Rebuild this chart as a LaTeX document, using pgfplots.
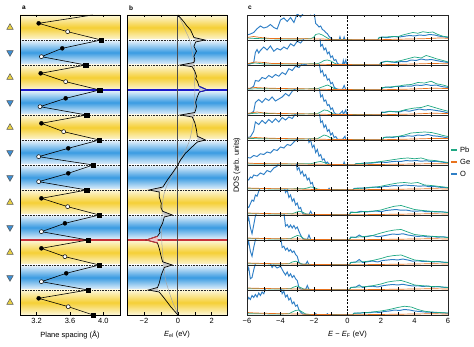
\documentclass[border=0pt]{standalone}
\usepackage{pgfplots}
\pgfplotsset{compat=1.18}
\usepackage{fontspec}
\setmainfont{Liberation Sans}
\definecolor{yel}{HTML}{F5CF35}
\definecolor{yelE}{HTML}{FDF7DA}
\definecolor{blu}{HTML}{3A9BE2}
\definecolor{bluE}{HTML}{EEF6FC}
\definecolor{cPb}{HTML}{1FA883}
\definecolor{cGe}{HTML}{E8731E}
\definecolor{cO}{HTML}{2F7FC6}
\definecolor{triY}{HTML}{E8D045}
\definecolor{triB}{HTML}{3D8FD4}
\definecolor{lineB}{HTML}{1A1ACC}
\definecolor{lineR}{HTML}{C8323A}
\newcommand\band[5]{\fill[top color=#1E,bottom color=#1E,middle color=#1] (axis cs:#2,#4) rectangle (axis cs:#3,#5);}
\newcommand\fs{\fontsize{7.5}{9}\selectfont}
\pgfplotsset{
  base/.style={scale only axis, anchor=south west, tick align=inside, ytick=\empty,
    axis on top, axis line style={line width=0.6pt},
    major tick length=2.5pt, minor tick length=2.5pt,
    every tick/.style={line width=0.5pt, black},
    tick label style={font=\fs}, label style={font=\fs}},
  cpan/.style={base, width=201pt, height=25pt, xmin=-6, xmax=6, ymin=0, ymax=1,
    xtick={-6,-4,...,6}, minor xtick={-5,-3,...,5}, xticklabels={,,,,,,},
    axis line style={line width=0.6pt, black!85}},
  pO/.style={cO, line width=0.95pt},
  pPb/.style={cPb, line width=0.7pt},
  pGe/.style={cGe, line width=0.7pt},
}
\begin{document}
\begin{tikzpicture}
\useasboundingbox (0,0) rectangle (474pt,347pt);
% ---------------- panel a
\begin{axis}[base, at={(20pt,32pt)}, width=100pt, height=300pt,
  xmin=3.0, xmax=4.2, ymin=0, ymax=12, clip=false,
  xtick={3.2,3.6,4.0}, xticklabels={3.2,3.6,4.0},
  xlabel={Plane spacing (Å)}]
\band{yel}{3.0}{4.2}{11}{12}
\band{blu}{3.0}{4.2}{10}{11}
\band{yel}{3.0}{4.2}{9}{10}
\band{blu}{3.0}{4.2}{8}{9}
\band{yel}{3.0}{4.2}{7}{8}
\band{blu}{3.0}{4.2}{6}{7}
\band{blu}{3.0}{4.2}{5}{6}
\band{yel}{3.0}{4.2}{4}{5}
\band{blu}{3.0}{4.2}{3}{4}
\band{yel}{3.0}{4.2}{2}{3}
\band{blu}{3.0}{4.2}{1}{2}
\band{yel}{3.0}{4.2}{0}{1}
\foreach \yy in {1,2,4,5,6,7,8,10,11}{
  \edef\tmp{\noexpand\draw[black!85, line width=0.5pt, dash pattern=on 0.8pt off 0.8pt] (axis cs:3.0,\yy) -- (axis cs:4.2,\yy);}\tmp}
\draw[lineB, line width=1.2pt] (axis cs:3.0,9) -- (axis cs:4.2,9);
\draw[lineR, line width=1.2pt] (axis cs:3.0,3) -- (axis cs:4.2,3);
\addplot[black, line width=0.6pt] coordinates {(3.87,12)
(3.224,11.667)(3.572,11.333)(3.972,11)
(3.507,10.667)(3.257,10.333)(3.790,10)
(3.248,9.667)(3.548,9.333)(3.955,9)
(3.548,8.667)(3.240,8.333)(3.798,8)
(3.257,7.667)(3.524,7.333)(3.951,7)
(3.579,6.667)(3.224,6.333)(3.879,6)
(3.579,5.667)(3.224,5.333)(3.802,5)
(3.257,4.667)(3.572,4.333)(3.951,4)
(3.539,3.667)(3.257,3.333)(3.815,3)
(3.257,2.667)(3.539,2.333)(3.951,2)
(3.555,1.667)(3.257,1.333)(3.815,1)
(3.224,0.667)(3.579,0.333)(3.879,0)};
\addplot[only marks, mark=*, mark size=2pt, mark options={black, fill=black}] coordinates {
(3.224,11.667)(3.507,10.667)(3.248,9.667)(3.548,8.667)(3.257,7.667)(3.579,6.667)
(3.579,5.667)(3.257,4.667)(3.539,3.667)(3.257,2.667)(3.555,1.667)(3.224,0.667)};
\addplot[only marks, mark=*, mark size=2pt, mark options={black, fill=white, line width=0.5pt}] coordinates {
(3.572,11.333)(3.257,10.333)(3.548,9.333)(3.240,8.333)(3.524,7.333)(3.224,6.333)
(3.224,5.333)(3.572,4.333)(3.257,3.333)(3.539,2.333)(3.257,1.333)(3.579,0.333)};
\addplot[only marks, mark=square*, mark size=2.2pt, mark options={black, fill=black}] coordinates {
(3.972,11)(3.790,10)(3.955,9)(3.798,8)(3.951,7)(3.879,6)
(3.802,5)(3.951,4)(3.815,3)(3.951,2)(3.815,1)(3.879,0)};
\addplot[only marks, mark=triangle*, mark size=3.8pt, mark options={fill=triY, draw=black!65, line width=0.5pt}] coordinates {
(2.88,11.5)(2.88,9.5)(2.88,7.5)(2.88,4.5)(2.88,2.5)(2.88,0.5)};
\addplot[only marks, mark=triangle*, mark size=3.8pt, mark options={fill=triB, draw=black!65, line width=0.5pt, rotate=180}] coordinates {
(2.88,10.5)(2.88,8.5)(2.88,6.5)(2.88,5.5)(2.88,3.5)(2.88,1.5)};
\end{axis}
% ---------------- panel b
\begin{axis}[base, at={(127pt,32pt)}, width=100pt, height=300pt,
  xmin=-3, xmax=2.9, ymin=0, ymax=12,
  xtick={-2,0,2}, xticklabels={−2,0,2}, minor xtick={-1,1},
  xlabel={\textit{E}\textsubscript{el} (eV)}]
\band{yel}{-3}{2.9}{11}{12}
\band{blu}{-3}{2.9}{10}{11}
\band{yel}{-3}{2.9}{9}{10}
\band{blu}{-3}{2.9}{8}{9}
\band{yel}{-3}{2.9}{7}{8}
\band{blu}{-3}{2.9}{6}{7}
\band{blu}{-3}{2.9}{5}{6}
\band{yel}{-3}{2.9}{4}{5}
\band{blu}{-3}{2.9}{3}{4}
\band{yel}{-3}{2.9}{2}{3}
\band{blu}{-3}{2.9}{1}{2}
\band{yel}{-3}{2.9}{0}{1}
\foreach \yy in {1,2,4,5,6,7,8,10,11}{
  \edef\tmp{\noexpand\draw[black!85, line width=0.5pt, dash pattern=on 0.8pt off 0.8pt] (axis cs:-3,\yy) -- (axis cs:2.9,\yy);}\tmp}
\draw[lineB, line width=1.2pt] (axis cs:-3,9) -- (axis cs:2.9,9);
\draw[lineR, line width=1.2pt] (axis cs:-3,3) -- (axis cs:2.9,3);
\draw[black!70, line width=0.7pt] (axis cs:0,0) -- (axis cs:0,12);
\addplot[black!35, line width=0.5pt, smooth] coordinates {
(0,12)(0.25,11.7)(0.5,11.3)(0.7,11.0)(0.85,10.5)(0.95,10)(1.0,9)(0.95,8)(0.85,7.5)(0.7,7)(0.45,6.6)(0.2,6.3)(0,6)
(-0.3,5.6)(-0.55,5.3)(-0.75,5)(-0.9,4.5)(-0.95,3.5)(-0.95,3)(-0.9,2.5)(-0.75,1.5)(-0.55,1.0)(-0.3,0.5)(-0.1,0.2)(0,0)};
\addplot[fill=black!22, draw=none] coordinates {(0.95,11.1)(1.6,11.0)(1.05,10.92)} -- cycle;
\addplot[fill=black!22, draw=none] coordinates {(0.95,10.1)(0.16,10.0)(0.85,9.93)} -- cycle;
\addplot[fill=black!22, draw=none] coordinates {(1.25,9.15)(1.75,9.0)(1.27,8.92)} -- cycle;
\addplot[fill=black!22, draw=none] coordinates {(1.0,8.1)(0.16,8.0)(0.85,7.92)} -- cycle;
\addplot[fill=black!22, draw=none] coordinates {(1.15,7.15)(1.63,7.0)(1.15,6.92)} -- cycle;
\addplot[fill=black!22, draw=none] coordinates {(-0.88,5.12)(-1.7,5.0)(-1.1,4.92)} -- cycle;
\addplot[fill=black!22, draw=none] coordinates {(-0.9,4.15)(-0.33,4.0)(-0.8,3.92)} -- cycle;
\addplot[fill=lineR!30, draw=none] coordinates {(-1.2,3.15)(-1.86,3.0)(-1.2,2.88)} -- cycle;
\addplot[fill=black!22, draw=none] coordinates {(-0.9,2.13)(-0.33,2.0)(-0.8,1.9)} -- cycle;
\addplot[fill=black!22, draw=none] coordinates {(-1.2,1.1)(-1.74,1.0)(-1.1,0.92)} -- cycle;
\addplot[black, line width=0.7pt] coordinates {
(0.0,12.0)(0.2,11.85)(0.35,11.73)(0.55,11.55)(0.75,11.4)(0.85,11.25)(0.95,11.1)(1.6,11.0)(1.05,10.92)(0.95,10.75)(1.1,10.55)(0.95,10.35)(1.0,10.2)(0.95,10.1)(0.16,10.0)(0.85,9.93)(1.0,9.75)(1.1,9.55)(1.05,9.45)(1.15,9.35)(1.25,9.15)(1.75,9.0)(1.27,8.92)(1.15,8.73)(1.05,8.5)(1.1,8.35)(1.05,8.2)(1.0,8.1)(0.16,8.0)(0.85,7.92)(1.0,7.7)(1.05,7.55)(1.1,7.4)(1.15,7.15)(1.63,7.0)(1.15,6.92)(0.85,6.73)(0.45,6.47)(0.16,6.2)(0.0,6.0)
(-0.33,5.67)(-0.62,5.4)(-0.88,5.12)(-1.7,5.0)(-1.1,4.92)(-1.1,4.73)(-0.98,4.47)(-1.0,4.3)(-0.9,4.15)(-0.33,4.0)(-0.8,3.92)(-0.9,3.67)(-1.1,3.4)(-1.05,3.3)(-1.2,3.15)(-1.86,3.0)(-1.2,2.88)(-1.1,2.67)(-0.98,2.33)(-0.9,2.13)(-0.33,2.0)(-0.8,1.9)(-0.98,1.6)(-1.1,1.27)(-1.2,1.1)(-1.74,1.0)(-1.1,0.92)(-0.8,0.67)(-0.42,0.33)(-0.15,0.12)(0.0,0.0)};
\addplot[lineR, line width=0.9pt] coordinates {(-1.2,3.15)(-1.86,3.0)(-1.2,2.88)};
\addplot[lineB, line width=0.9pt] coordinates {(1.25,9.15)(1.75,9.0)(1.27,8.92)};
\end{axis}
% ---------------- panel c
\begin{axis}[cpan, at={(247pt,307pt)}]
\draw[black, line width=0.8pt, dash pattern=on 2pt off 1.5pt] (axis cs:0,0) -- (axis cs:0,1);
\addplot[pO] coordinates {(-6,.2)(-5.8,.24)(-5.6,.3)(-5.4,.45)(-5.2,.56)(-5,.48)(-4.8,.52)(-4.6,.62)(-4.4,.5)(-4.2,.44)(-4,.8)(-3.8,.88)(-3.6,.74)(-3.4,.9)(-3.2,.7)(-3,1.05)(-2.8,.92)(-2.6,1.1)(-2.4,1.2)(-2.2,1.05)(-2,1.15)(-1.9,.66)(-1.8,.6)(-1.7,.52)(-1.6,.56)(-1.5,.42)(-1.4,.38)(-1.3,.3)(-1.2,.25)(-1.1,.14)(-1,.08)(-.9,.02)(-.5,.02)(-.45,.13)(-.4,.02)(-.25,.02)(-.2,.12)(-.15,.02)(0,0)(1.8,0)(1.9,.1)(2.1,.12)(2.3,.09)(2.5,.11)(2.8,.14)(3.1,.12)(3.4,.15)(3.7,.18)(4,.16)(4.3,.2)(4.6,.18)(4.9,.22)(5.2,.2)(5.5,.15)(5.8,.12)(6,.1)};
\addplot[pPb] coordinates {(-6,.08)(-5.5,.06)(-5,.05)(-4,.04)(-3,.04)(-2.2,.05)(-2,.12)(-1.9,.22)(-1.7,.25)(-1.5,.2)(-1.3,.12)(-1.1,.04)(-0.9,.01)(1.8,0)(1.9,.1)(2.3,.12)(2.7,.14)(3,.13)(3.3,.2)(3.6,.25)(3.9,.3)(4.2,.27)(4.5,.33)(4.8,.3)(5.1,.32)(5.4,.22)(5.7,.15)(6,.12)};
\addplot[pGe] coordinates {(-6,.1)(-5.6,.14)(-5.2,.1)(-4.6,.06)(-3,.05)(-1.5,.04)(-.8,.01)(1.8,.01)(3,.03)(4.5,.05)(5.5,.08)(6,.07)};
\end{axis}
\begin{axis}[cpan, at={(247pt,282pt)}]
\draw[black, line width=0.8pt, dash pattern=on 2pt off 1.5pt] (axis cs:0,0) -- (axis cs:0,1);
\addplot[pO] coordinates {(-6,.03)(-5.8,.04)(-5.6,.1)(-5.5,.5)(-5.4,.62)(-5.3,.48)(-5.2,.58)(-5,.72)(-4.8,.6)(-4.6,.76)(-4.4,.55)(-4.2,.66)(-4,.6)(-3.8,.72)(-3.6,.64)(-3.4,.85)(-3.2,.76)(-3,.95)(-2.8,.88)(-2.6,1.05)(-2.4,1.15)(-2.2,1.1)(-2,1.2)(-1.8,1.1)(-1.65,1.2)(-1.6,.75)(-1.5,.82)(-1.4,.6)(-1.3,.68)(-1.2,.45)(-1.1,.52)(-1,.3)(-.9,.36)(-.8,.18)(-.7,.22)(-.6,.06)(-.5,.03)(-.3,.02)(-.25,.18)(-.2,.02)(-.1,.2)(-.05,.02)(0,0)(1.9,0)(2,.1)(2.3,.15)(2.6,.12)(2.9,.1)(3.2,.14)(3.5,.13)(3.8,.2)(4.1,.18)(4.4,.24)(4.7,.2)(5,.22)(5.3,.18)(5.6,.14)(6,.1)};
\addplot[pPb] coordinates {(-6,.05)(-5.5,.08)(-5,.04)(-3,.04)(-1.8,.05)(-1.6,.1)(-1.4,.18)(-1.2,.2)(-1,.16)(-.8,.08)(-.6,.02)(1.9,0)(2,.1)(2.4,.15)(2.8,.12)(3.2,.18)(3.6,.25)(4,.32)(4.4,.28)(4.7,.38)(5,.32)(5.3,.25)(5.7,.18)(6,.12)};
\addplot[pGe] coordinates {(-6,.05)(-5.5,.12)(-5,.1)(-4.5,.06)(-3,.05)(-1,.02)(1.9,.01)(4,.04)(5,.06)(6,.05)};
\end{axis}
\begin{axis}[cpan, at={(247pt,257pt)}]
\draw[black, line width=0.8pt, dash pattern=on 2pt off 1.5pt] (axis cs:0,0) -- (axis cs:0,1);
\addplot[pO] coordinates {(-6,.05)(-5.8,.06)(-5.6,.15)(-5.5,.38)(-5.3,.35)(-5.1,.5)(-4.9,.45)(-4.7,.58)(-4.5,.5)(-4.3,.62)(-4.1,.55)(-3.9,.7)(-3.7,.62)(-3.5,.85)(-3.3,.78)(-3.1,.95)(-2.9,.9)(-2.7,1.05)(-2.5,1.0)(-2.3,1.15)(-2.1,1.1)(-1.9,1.2)(-1.7,1.1)(-1.6,.7)(-1.5,.78)(-1.4,.55)(-1.3,.62)(-1.2,.4)(-1.1,.45)(-1,.25)(-.9,.3)(-.8,.12)(-.7,.06)(-.5,.02)(-.3,.03)(-.2,.18)(-.1,.02)(0,0)(2,0)(2.1,.08)(2.3,.12)(2.6,.1)(2.9,.15)(3.2,.13)(3.5,.16)(3.8,.15)(4.1,.2)(4.4,.18)(4.7,.22)(5,.18)(5.3,.2)(5.6,.14)(6,.1)};
\addplot[pPb] coordinates {(-6,.04)(-5,.05)(-3,.04)(-1.8,.05)(-1.6,.1)(-1.4,.15)(-1.2,.2)(-1,.14)(-.8,.06)(-.6,.02)(2,0)(2.1,.1)(2.5,.12)(3,.15)(3.4,.2)(3.8,.22)(4.2,.3)(4.6,.28)(5,.35)(5.3,.25)(5.7,.2)(6,.14)};
\addplot[pGe] coordinates {(-6,.06)(-5.5,.1)(-5,.08)(-4,.06)(-2,.04)(-1,.02)(2,.01)(4,.04)(5,.07)(6,.06)};
\end{axis}
\begin{axis}[cpan, at={(247pt,232pt)}]
\draw[black, line width=0.8pt, dash pattern=on 2pt off 1.5pt] (axis cs:0,0) -- (axis cs:0,1);
\addplot[pO] coordinates {(-6,.04)(-5.8,.05)(-5.6,.15)(-5.5,.5)(-5.3,.62)(-5.1,.5)(-4.9,.66)(-4.7,.58)(-4.5,.72)(-4.3,.56)(-4.1,.64)(-3.9,.72)(-3.7,.86)(-3.5,.76)(-3.3,.95)(-3.1,1.05)(-2.9,1.1)(-2.7,1.2)(-2.5,1.1)(-2.3,1.15)(-2.1,1.2)(-1.9,1.1)(-1.7,1.15)(-1.6,.72)(-1.5,.8)(-1.4,.55)(-1.3,.6)(-1.2,.38)(-1.1,.42)(-1,.22)(-.9,.28)(-.8,.1)(-.7,.04)(-.5,.02)(-.3,.16)(-.25,.02)(-.1,.2)(-.05,.02)(0,0)(2,0)(2.05,.12)(2.2,.1)(2.5,.15)(2.8,.13)(3.1,.12)(3.4,.18)(3.7,.15)(4,.2)(4.3,.24)(4.6,.2)(4.9,.22)(5.2,.19)(5.5,.16)(5.8,.12)(6,.08)};
\addplot[pPb] coordinates {(-6,.05)(-5.2,.08)(-4.8,.06)(-3,.04)(-1.8,.05)(-1.6,.12)(-1.4,.2)(-1.2,.18)(-1,.1)(-.8,.03)(2,0)(2.05,.1)(2.5,.14)(3,.13)(3.5,.22)(4,.28)(4.4,.3)(4.8,.38)(5.2,.3)(5.6,.22)(6,.15)};
\addplot[pGe] coordinates {(-6,.06)(-5.4,.12)(-5,.08)(-4,.06)(-2,.04)(-1,.02)(2,.01)(4,.04)(5,.07)(6,.06)};
\end{axis}
\begin{axis}[cpan, at={(247pt,207pt)}]
\draw[black, line width=0.8pt, dash pattern=on 2pt off 1.5pt] (axis cs:0,0) -- (axis cs:0,1);
\addplot[pO] coordinates {(-6,.1)(-5.8,.12)(-5.6,.35)(-5.5,.72)(-5.3,.62)(-5.1,.78)(-4.9,.66)(-4.7,.82)(-4.5,.7)(-4.3,.85)(-4.1,.72)(-3.9,.9)(-3.7,.8)(-3.5,.92)(-3.3,.86)(-3.1,1.05)(-2.9,1.15)(-2.7,1.1)(-2.5,1.2)(-2.3,1.15)(-2.1,1.2)(-1.9,1.1)(-1.7,1.2)(-1.6,.7)(-1.5,.76)(-1.4,.5)(-1.3,.6)(-1.2,.35)(-1.1,.42)(-1,.2)(-.9,.28)(-.8,.1)(-.7,.14)(-.6,.03)(-.3,.02)(-.15,.15)(-.1,.02)(0,0)(2.1,0)(2.15,.1)(2.4,.12)(2.7,.1)(3,.14)(3.3,.13)(3.6,.17)(3.9,.15)(4.2,.2)(4.5,.18)(4.8,.22)(5.1,.17)(5.4,.15)(5.7,.12)(6,.08)};
\addplot[pPb] coordinates {(-6,.06)(-5,.05)(-3,.04)(-1.8,.05)(-1.6,.12)(-1.4,.2)(-1.2,.16)(-1,.08)(-.8,.02)(2.1,0)(2.15,.1)(2.6,.12)(3,.14)(3.4,.2)(3.8,.28)(4.2,.3)(4.6,.32)(5,.3)(5.4,.24)(5.7,.18)(6,.14)};
\addplot[pGe] coordinates {(-6,.07)(-5.5,.1)(-5,.08)(-4,.06)(-2,.04)(-1,.02)(2,.01)(4,.04)(5,.06)(6,.06)};
\end{axis}
\begin{axis}[cpan, at={(247pt,182pt)}]
\draw[black, line width=0.8pt, dash pattern=on 2pt off 1.5pt] (axis cs:0,0) -- (axis cs:0,1);
\addplot[pO] coordinates {(-6,.3)(-5.8,.28)(-5.6,.38)(-5.4,.34)(-5.2,.45)(-5,.42)(-4.8,.52)(-4.6,.48)(-4.4,.62)(-4.2,.58)(-4,.72)(-3.8,.68)(-3.6,.82)(-3.4,.78)(-3.2,.92)(-3,1.05)(-2.8,1.15)(-2.6,1.1)(-2.4,1.2)(-2.3,.9)(-2.2,1.0)(-2.1,.7)(-2,.8)(-1.9,.5)(-1.8,.62)(-1.7,.35)(-1.6,.42)(-1.5,.2)(-1.4,.25)(-1.3,.08)(-1.2,.12)(-1.1,.03)(-.9,.02)(-.25,.02)(-.2,.12)(-.15,.02)(0,0)(0.4,0)(0.5,.05)(0.8,.06)(1.1,.08)(1.4,.07)(1.7,.1)(2,.12)(2.3,.1)(2.6,.13)(2.9,.15)(3.2,.14)(3.5,.18)(3.8,.16)(4.1,.18)(4.4,.15)(4.7,.17)(5,.14)(5.3,.15)(5.6,.12)(6,.08)};
\addplot[pPb] coordinates {(-6,.04)(-4,.04)(-2.2,.05)(-2,.08)(-1.8,.12)(-1.6,.14)(-1.4,.1)(-1.2,.04)(-1,.02)(0.4,0)(0.5,.05)(1,.07)(1.5,.1)(2,.14)(2.4,.18)(2.8,.22)(3.2,.26)(3.6,.28)(4,.25)(4.4,.28)(4.8,.2)(5.2,.18)(5.6,.14)(6,.1)};
\addplot[pGe] coordinates {(-6,.08)(-5.5,.06)(-4,.05)(-2,.03)(.5,.01)(3,.03)(5,.05)(6,.05)};
\end{axis}
\begin{axis}[cpan, at={(247pt,157pt)}]
\draw[black, line width=0.8pt, dash pattern=on 2pt off 1.5pt] (axis cs:0,0) -- (axis cs:0,1);
\addplot[pO] coordinates {(-6,.45)(-5.9,.4)(-5.8,.52)(-5.7,.48)(-5.6,.6)(-5.4,.56)(-5.2,.68)(-5,.62)(-4.8,.78)(-4.6,.72)(-4.4,.88)(-4.2,.95)(-4.1,1.1)(-3.9,1.2)(-3.7,1.1)(-3.5,1.2)(-3.3,1.15)(-3.1,1.2)(-3,.8)(-2.9,.9)(-2.8,.65)(-2.7,.75)(-2.6,.55)(-2.5,.62)(-2.4,.4)(-2.3,.48)(-2.2,.25)(-2.1,.3)(-2,.05)(-1.9,.02)(-1.15,.02)(-1.1,.07)(-1.05,.02)(0,0)(0.3,0)(0.4,.06)(0.7,.08)(1,.07)(1.3,.1)(1.6,.12)(1.9,.1)(2.2,.14)(2.5,.15)(2.8,.18)(3.1,.16)(3.4,.2)(3.7,.18)(4,.17)(4.3,.15)(4.6,.17)(4.9,.13)(5.2,.14)(5.5,.11)(5.8,.1)(6,.08)};
\addplot[pPb] coordinates {(-6,.05)(-4,.04)(-2.6,.05)(-2.4,.08)(-2.2,.12)(-2,.1)(-1.8,.04)(-1.6,.02)(0.3,0)(0.4,.05)(1,.08)(1.5,.1)(2,.15)(2.5,.22)(3,.28)(3.4,.3)(3.8,.27)(4.2,.3)(4.6,.2)(5,.18)(5.5,.14)(6,.1)};
\addplot[pGe] coordinates {(-6,.08)(-5,.06)(-3,.04)(-2,.02)(.5,.01)(3,.03)(5,.05)(6,.04)};
\end{axis}
\begin{axis}[cpan, at={(247pt,132pt)}]
\draw[black, line width=0.8pt, dash pattern=on 2pt off 1.5pt] (axis cs:0,0) -- (axis cs:0,1);
\addplot[pO] coordinates {(-6,.35)(-5.9,.3)(-5.8,.45)(-5.7,.6)(-5.6,.55)(-5.5,.8)(-5.4,.75)(-5.3,.95)(-5.2,1.1)(-5,1.2)(-4.8,1.1)(-4.6,1.2)(-4.4,1.15)(-4.2,1.2)(-4,1.1)(-3.8,1.2)(-3.7,.9)(-3.6,1.0)(-3.5,.7)(-3.4,.8)(-3.3,.55)(-3.2,.65)(-3.1,.4)(-3,.48)(-2.9,.25)(-2.8,.3)(-2.7,.08)(-2.6,.03)(-2.3,.02)(-2.2,.15)(-2.1,.02)(0,0)(0.1,0)(0.2,.12)(0.5,.1)(0.8,.15)(1.1,.12)(1.4,.14)(1.7,.16)(2,.13)(2.3,.18)(2.6,.2)(2.9,.22)(3.2,.19)(3.5,.2)(3.8,.16)(4.1,.15)(4.4,.17)(4.7,.13)(5,.14)(5.3,.12)(5.6,.13)(6,.1)};
\addplot[pPb] coordinates {(-6,.05)(-4,.04)(-3.3,.05)(-3.1,.1)(-2.9,.15)(-2.7,.12)(-2.5,.05)(-2.3,.02)(0.1,0)(0.2,.1)(0.6,.1)(1,.14)(1.5,.15)(2,.2)(2.4,.28)(2.8,.35)(3.2,.38)(3.6,.3)(4,.22)(4.5,.18)(5,.15)(5.5,.13)(6,.1)};
\addplot[pGe] coordinates {(-6,.08)(-5,.06)(-3,.04)(-2,.02)(.5,.01)(3,.03)(5,.05)(6,.04)};
\end{axis}
\begin{axis}[cpan, at={(247pt,107pt)}]
\draw[black, line width=0.8pt, dash pattern=on 2pt off 1.5pt] (axis cs:0,0) -- (axis cs:0,1);
\addplot[pO] coordinates {(-6,.65)(-5.9,.9)(-5.8,.5)(-5.7,.25)(-5.6,.6)(-5.5,.95)(-5.4,1.15)(-5.2,1.2)(-5,1.1)(-4.8,1.2)(-4.6,1.15)(-4.4,1.2)(-4.2,1.1)(-4,1.2)(-3.8,1.1)(-3.7,.55)(-3.6,.62)(-3.5,.5)(-3.4,.6)(-3.3,.48)(-3.2,.58)(-3.1,.45)(-3,.52)(-2.9,.35)(-2.8,.2)(-2.7,.08)(-2.6,.03)(-2.4,.02)(-2.3,.2)(-2.2,.02)(0,0)(0.1,0)(0.2,.12)(0.5,.1)(0.7,.2)(0.9,.12)(1.2,.14)(1.5,.18)(1.8,.13)(2.1,.16)(2.4,.2)(2.7,.24)(3,.22)(3.3,.25)(3.6,.2)(3.9,.17)(4.2,.14)(4.5,.16)(4.8,.12)(5.1,.14)(5.4,.11)(5.7,.13)(6,.1)};
\addplot[pPb] coordinates {(-6,.05)(-4,.04)(-3.4,.05)(-3.2,.12)(-3,.18)(-2.8,.15)(-2.6,.05)(-2.4,.02)(0.1,0)(0.2,.1)(0.6,.12)(1,.14)(1.5,.18)(2,.28)(2.4,.35)(2.8,.4)(3.2,.42)(3.6,.32)(4,.22)(4.5,.18)(5,.15)(5.5,.13)(6,.1)};
\addplot[pGe] coordinates {(-6,.08)(-5,.06)(-3,.04)(-2,.02)(.5,.01)(3,.03)(5,.05)(6,.04)};
\end{axis}
\begin{axis}[cpan, at={(247pt,82pt)}]
\draw[black, line width=0.8pt, dash pattern=on 2pt off 1.5pt] (axis cs:0,0) -- (axis cs:0,1);
\addplot[pO] coordinates {(-6,.7)(-5.9,.95)(-5.8,.55)(-5.7,.35)(-5.6,.7)(-5.5,1.0)(-5.4,1.15)(-5.2,1.2)(-5,1.1)(-4.8,1.2)(-4.6,1.15)(-4.4,1.2)(-4.2,1.1)(-4,1.15)(-3.9,.7)(-3.8,.75)(-3.7,.6)(-3.6,.68)(-3.5,.55)(-3.4,.62)(-3.3,.5)(-3.2,.56)(-3.1,.42)(-3,.35)(-2.9,.1)(-2.8,.04)(-2.5,.02)(-2.4,.15)(-2.3,.02)(0,0)(0.1,0)(0.2,.1)(0.5,.12)(0.7,.22)(0.9,.1)(1.2,.13)(1.5,.16)(1.8,.12)(2.1,.18)(2.4,.2)(2.7,.22)(3,.2)(3.3,.24)(3.6,.2)(3.9,.15)(4.2,.17)(4.5,.14)(4.8,.15)(5.1,.12)(5.4,.14)(5.7,.11)(6,.1)};
\addplot[pPb] coordinates {(-6,.05)(-4,.04)(-3.5,.05)(-3.3,.12)(-3.1,.15)(-2.9,.1)(-2.7,.03)(0.1,0)(0.2,.1)(0.6,.12)(1,.13)(1.5,.18)(2,.26)(2.4,.34)(2.8,.38)(3.2,.4)(3.6,.3)(4,.2)(4.5,.17)(5,.14)(5.5,.13)(6,.1)};
\addplot[pGe] coordinates {(-6,.08)(-5,.06)(-3,.04)(-2,.02)(.5,.01)(3,.03)(5,.05)(6,.04)};
\end{axis}
\begin{axis}[cpan, at={(247pt,57pt)}]
\draw[black, line width=0.8pt, dash pattern=on 2pt off 1.5pt] (axis cs:0,0) -- (axis cs:0,1);
\addplot[pO] coordinates {(-6,.7)(-5.9,.9)(-5.8,.45)(-5.7,.5)(-5.6,.8)(-5.5,1.05)(-5.4,1.15)(-5.2,1.2)(-5,1.1)(-4.8,1.2)(-4.6,1.05)(-4.5,.9)(-4.4,1.0)(-4.2,.88)(-4,.95)(-3.9,.82)(-3.8,.7)(-3.7,.6)(-3.6,.72)(-3.5,.55)(-3.4,.65)(-3.3,.5)(-3.2,.58)(-3.1,.45)(-3,.38)(-2.9,.1)(-2.8,.04)(-2.5,.02)(-2.4,.18)(-2.3,.02)(0,0)(0.1,0)(0.2,.1)(0.5,.12)(0.7,.2)(0.9,.1)(1.2,.14)(1.5,.15)(1.8,.12)(2.1,.17)(2.4,.2)(2.7,.22)(3,.2)(3.3,.23)(3.6,.19)(3.9,.16)(4.2,.17)(4.5,.14)(4.8,.16)(5.1,.12)(5.4,.14)(5.7,.11)(6,.1)};
\addplot[pPb] coordinates {(-6,.05)(-4,.04)(-3.4,.05)(-3.2,.12)(-3,.16)(-2.8,.1)(-2.6,.03)(0.1,0)(0.2,.1)(0.6,.12)(1,.13)(1.5,.17)(2,.24)(2.4,.32)(2.8,.36)(3.2,.38)(3.6,.3)(4,.2)(4.5,.17)(5,.14)(5.5,.13)(6,.1)};
\addplot[pGe] coordinates {(-6,.08)(-5,.06)(-3,.04)(-2,.02)(.5,.01)(3,.03)(5,.05)(6,.04)};
\end{axis}
\begin{axis}[cpan, at={(247pt,32pt)}, xticklabels={−6,−4,−2,0,2,4,6},
  xlabel={\textit{E} − \textit{E}\textsubscript{F} (eV)}]
\draw[black, line width=0.8pt, dash pattern=on 2pt off 1.5pt] (axis cs:0,0) -- (axis cs:0,1);
\addplot[pO] coordinates {(-6,.55)(-5.9,.7)(-5.8,.62)(-5.7,.78)(-5.6,.7)(-5.5,.82)(-5.4,.72)(-5.3,.88)(-5.2,.78)(-5.1,.92)(-5,.85)(-4.9,1.05)(-4.7,1.2)(-4.5,1.1)(-4.3,1.2)(-4.1,1.1)(-4,1.15)(-3.9,.85)(-3.8,.95)(-3.7,.72)(-3.6,.8)(-3.5,.6)(-3.4,.68)(-3.3,.45)(-3.2,.52)(-3.1,.35)(-3,.4)(-2.9,.2)(-2.8,.12)(-2.7,.05)(-2.5,.02)(-1.95,.02)(-1.9,.06)(-1.85,.02)(-1.25,.02)(-1.2,.05)(-1.15,.02)(0,0)(0.3,0)(0.4,.08)(0.7,.07)(1,.1)(1.3,.09)(1.6,.12)(1.9,.1)(2.2,.14)(2.5,.16)(2.8,.2)(3.1,.18)(3.4,.22)(3.7,.2)(4,.16)(4.3,.14)(4.6,.12)(4.9,.11)(5.2,.1)(5.5,.09)(5.8,.08)(6,.07)};
\addplot[pPb] coordinates {(-6,.05)(-4,.04)(-3.5,.05)(-3.3,.12)(-3.1,.18)(-2.9,.2)(-2.7,.12)(-2.5,.04)(-2.3,.02)(0.3,0)(0.4,.07)(1,.09)(1.5,.12)(2,.16)(2.5,.22)(3,.3)(3.4,.35)(3.8,.32)(4.2,.22)(4.6,.15)(5,.12)(5.5,.1)(6,.08)};
\addplot[pGe] coordinates {(-6,.1)(-5.5,.08)(-4,.05)(-3,.04)(-2,.02)(.5,.01)(3,.03)(5,.05)(6,.04)};
\end{axis}
% labels
\node[font=\bfseries\fontsize{6.5}{7}\selectfont] at (24pt,339pt) {a};
\node[font=\bfseries\fontsize{6.5}{7}\selectfont] at (131pt,339pt) {b};
\node[font=\bfseries\fontsize{6.5}{7}\selectfont] at (250pt,339pt) {c};
\node[font=\fs, rotate=90] at (237pt,182pt) {DOS (arb. units)};
\draw[cPb, line width=1.6pt] (451pt,197pt) -- (457pt,197pt);
\draw[cGe, line width=1.6pt] (451pt,185pt) -- (457pt,185pt);
\draw[cO, line width=1.6pt] (451pt,173pt) -- (457pt,173pt);
\node[font=\fs, anchor=west, inner sep=0pt] at (460pt,197pt) {Pb};
\node[font=\fs, anchor=west, inner sep=0pt] at (460pt,185pt) {Ge};
\node[font=\fs, anchor=west, inner sep=0pt] at (460pt,173pt) {O};
\end{tikzpicture}
\end{document}
